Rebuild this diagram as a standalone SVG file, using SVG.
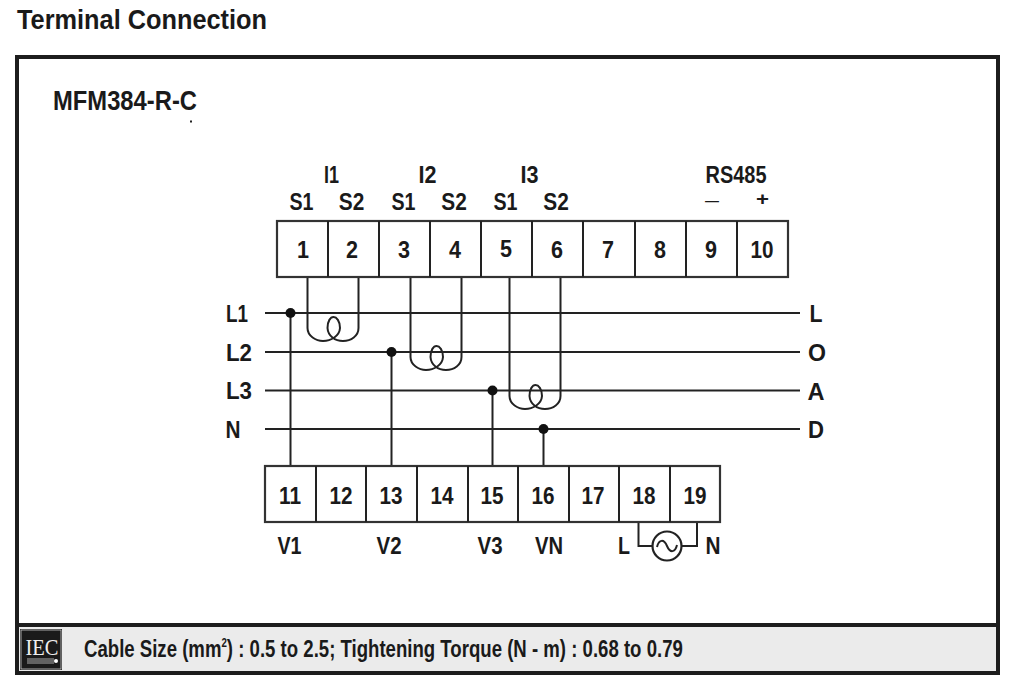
<svg xmlns="http://www.w3.org/2000/svg" width="1024" height="689" viewBox="0 0 1024 689">
<style>
text{font-family:"Liberation Sans",Arial,sans-serif;font-weight:700;fill:#1a1a1a;text-anchor:middle;font-size:24px}
.w{fill:none;stroke:#222;stroke-width:2}
.cell{fill:#fff;stroke:#333;stroke-width:2.200}
.dot{fill:#111}
</style>
<rect width="1024" height="689" fill="#fff"/>
<text x="17" y="29" textLength="250" lengthAdjust="spacingAndGlyphs" style="text-anchor:start;font-size:28.500px">Terminal Connection</text>
<g id="frame">
<rect x="17" y="57" width="981" height="616" fill="#fff" stroke="#1d1d1d" stroke-width="4"/>
<rect x="19" y="627" width="977" height="44" fill="#ebebeb"/>
<line x1="17" y1="625" x2="998" y2="625" stroke="#1d1d1d" stroke-width="4"/>
</g>
<text x="53" y="109.500" textLength="144" lengthAdjust="spacingAndGlyphs" style="text-anchor:start;font-size:28.500px">MFM384-R-C</text>
<rect x="190" y="120.500" width="2" height="2" fill="#222"/>
<g id="connectors">
<path class="w" d="M265 313H800M265 352H800M265 390.500H800M265 429H800"/>
<path class="w" d="M290.500 313V466M391.500 352V466M492.500 390.500V466M543.500 429V466"/>
<path id="loop1" class="w" d="M307.500 277V328C307.500 336 316 341 323 341C331 341 339.500 336 340 328C340 321 336.500 317 333.500 317C330.500 317 327.500 321 327.500 328C328 336 335 341 343 341C351 341 358.500 336 358.500 328V277"/>
<path id="loop2" class="w" d="M410.500 277V357C410.500 365 419 370 426 370C434 370 442.500 365 443 357C443 350 439.500 346 436.500 346C433.500 346 430.500 350 430.500 357C431 365 438 370 446 370C454 370 461.500 365 461.500 357V277"/>
<path id="loop3" class="w" d="M509.500 277V396C509.500 404 518 409 525 409C533 409 541.500 404 542 396C542 389 538.500 385 535.500 385C532.500 385 529.500 389 529.500 396C530 404 537 409 545 409C553 409 560.500 404 560.500 396V277"/>
<circle class="dot" cx="290.500" cy="313" r="5"/>
<circle class="dot" cx="391.500" cy="352" r="5"/>
<circle class="dot" cx="492.500" cy="390.500" r="5"/>
<circle class="dot" cx="543.500" cy="429" r="5"/>
<path class="w" d="M638.500 522V546H652M682 546H697V522"/>
</g>
<g id="top-terminals">
<rect class="cell" x="277" y="221" width="511" height="56"/>
<path class="w" d="M328 221V277M379 221V277M430 221V277M481 221V277M532 221V277M583 221V277M635 221V277M686 221V277M737 221V277"/>
<text x="303" y="258" textLength="12" lengthAdjust="spacingAndGlyphs">1</text>
<text x="352" y="258" textLength="12" lengthAdjust="spacingAndGlyphs">2</text>
<text x="404" y="258" textLength="12" lengthAdjust="spacingAndGlyphs">3</text>
<text x="455" y="258" textLength="12" lengthAdjust="spacingAndGlyphs">4</text>
<text x="506" y="257" textLength="12" lengthAdjust="spacingAndGlyphs">5</text>
<text x="557" y="258" textLength="12" lengthAdjust="spacingAndGlyphs">6</text>
<text x="608" y="258" textLength="12" lengthAdjust="spacingAndGlyphs">7</text>
<text x="660" y="258" textLength="12" lengthAdjust="spacingAndGlyphs">8</text>
<text x="711" y="258" textLength="12" lengthAdjust="spacingAndGlyphs">9</text>
<text x="762" y="258" textLength="23" lengthAdjust="spacingAndGlyphs">10</text>
</g>
<g id="bottom-terminals">
<rect class="cell" x="265" y="466" width="455" height="56"/>
<path class="w" d="M316 466V522M366 466V522M417 466V522M468 466V522M518 466V522M569 466V522M619 466V522M670 466V522"/>
<text x="290" y="503.500" textLength="22" lengthAdjust="spacingAndGlyphs">11</text>
<text x="341" y="503.500" textLength="23" lengthAdjust="spacingAndGlyphs">12</text>
<text x="391" y="503.500" textLength="23" lengthAdjust="spacingAndGlyphs">13</text>
<text x="442" y="503.500" textLength="23" lengthAdjust="spacingAndGlyphs">14</text>
<text x="492" y="503.500" textLength="23" lengthAdjust="spacingAndGlyphs">15</text>
<text x="543" y="503.500" textLength="23" lengthAdjust="spacingAndGlyphs">16</text>
<text x="593" y="503.500" textLength="23" lengthAdjust="spacingAndGlyphs">17</text>
<text x="644" y="503.500" textLength="23" lengthAdjust="spacingAndGlyphs">18</text>
<text x="695" y="503.500" textLength="23" lengthAdjust="spacingAndGlyphs">19</text>
</g>
<g id="top-labels">
<text x="331.500" y="182.500" textLength="15" lengthAdjust="spacingAndGlyphs">I1</text>
<text x="427.500" y="182.500" textLength="18" lengthAdjust="spacingAndGlyphs">I2</text>
<text x="529.500" y="182.500" textLength="18" lengthAdjust="spacingAndGlyphs">I3</text>
<text x="736" y="182.500" textLength="61" lengthAdjust="spacingAndGlyphs">RS485</text>
<text x="301.500" y="210" textLength="24" lengthAdjust="spacingAndGlyphs">S1</text>
<text x="351.500" y="210" textLength="25.500" lengthAdjust="spacingAndGlyphs">S2</text>
<text x="403.500" y="210" textLength="24" lengthAdjust="spacingAndGlyphs">S1</text>
<text x="454" y="210" textLength="25.500" lengthAdjust="spacingAndGlyphs">S2</text>
<text x="505.500" y="210" textLength="24" lengthAdjust="spacingAndGlyphs">S1</text>
<text x="556" y="210" textLength="25.500" lengthAdjust="spacingAndGlyphs">S2</text>
<text x="712" y="206" textLength="14" lengthAdjust="spacingAndGlyphs" style="font-size:19px;font-weight:400">–</text>
<text x="762.500" y="205" textLength="13" lengthAdjust="spacingAndGlyphs" style="font-size:18px">+</text>
</g>
<g id="line-labels">
<text x="237" y="321.500" textLength="22" lengthAdjust="spacingAndGlyphs">L1</text>
<text x="239" y="360.500" textLength="26" lengthAdjust="spacingAndGlyphs">L2</text>
<text x="239" y="399" textLength="26" lengthAdjust="spacingAndGlyphs">L3</text>
<text x="233" y="438" textLength="15" lengthAdjust="spacingAndGlyphs">N</text>
<text x="816" y="322" textLength="13" lengthAdjust="spacingAndGlyphs">L</text>
<text x="817" y="361" textLength="18" lengthAdjust="spacingAndGlyphs">O</text>
<text x="816" y="400" textLength="17" lengthAdjust="spacingAndGlyphs">A</text>
<text x="816" y="437.500" textLength="16" lengthAdjust="spacingAndGlyphs">D</text>
</g>
<g id="bottom-labels">
<text x="289.500" y="553.500" textLength="24" lengthAdjust="spacingAndGlyphs">V1</text>
<text x="389" y="553.500" textLength="25" lengthAdjust="spacingAndGlyphs">V2</text>
<text x="490" y="553.500" textLength="25" lengthAdjust="spacingAndGlyphs">V3</text>
<text x="549" y="553.500" textLength="28" lengthAdjust="spacingAndGlyphs">VN</text>
<text x="624" y="553.500" textLength="12" lengthAdjust="spacingAndGlyphs">L</text>
<text x="713" y="553.500" textLength="15" lengthAdjust="spacingAndGlyphs">N</text>
</g>
<g id="ac-source">
<circle cx="667" cy="546" r="14.500" fill="#fff" stroke="#222" stroke-width="2.200"/>
<path class="w" d="M657 547C659 539 664 539 667 546C670 553 675 553 677 545"/>
</g>
<g id="footer">
<rect x="20" y="629" width="42" height="41" fill="#1a1a1a"/>
<rect x="21" y="630" width="40" height="39" fill="none" stroke="#ccc" stroke-width="0.800"/>
<text x="42" y="655" textLength="33" lengthAdjust="spacingAndGlyphs" style="font-family:'Liberation Serif',serif;font-weight:400;fill:#eee">IEC</text>
<path d="M27 659H54M27 661H54M27 663H54" stroke="#aaa" stroke-width="1"/>
<circle cx="56" cy="661" r="2" fill="#fff"/>
<text transform="translate(84 657) scale(0.809 1)" style="text-anchor:start;font-size:23px">Cable Size (mm<tspan style="font-size:12px" dy="-10">2</tspan><tspan dy="10">) : 0.5 to 2.5; Tightening Torque (N - m) : 0.68 to 0.79</tspan></text>
</g>
</svg>
